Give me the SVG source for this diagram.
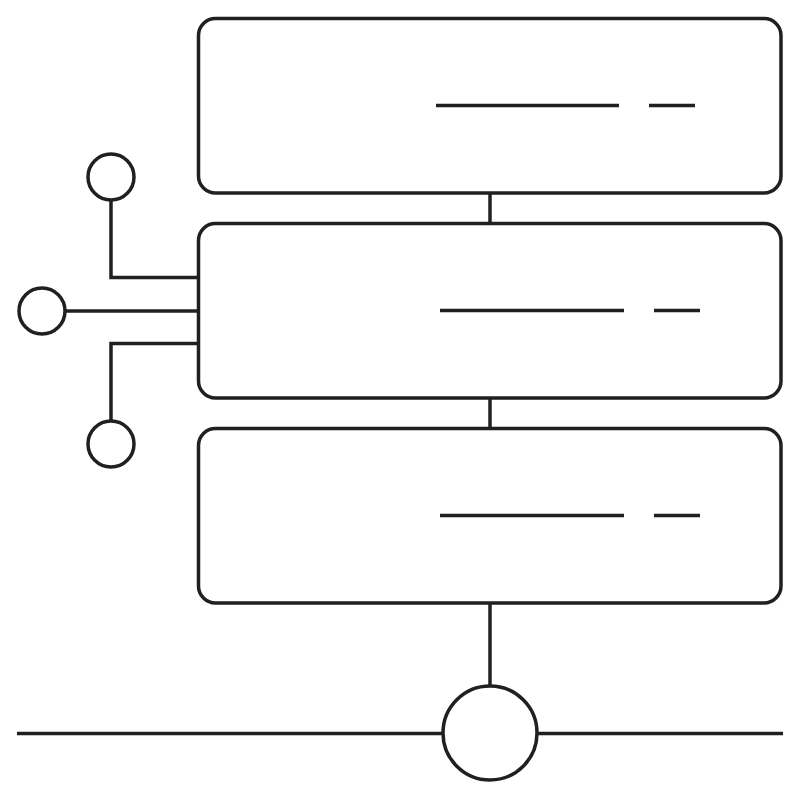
<svg xmlns="http://www.w3.org/2000/svg" width="800" height="800" viewBox="0 0 800 800">
<style>
.s{fill:none;stroke:#231f20;stroke-width:3.500}
.n{fill:#fff;stroke:#231f20;stroke-width:3.500}
</style>
<rect width="800" height="800" fill="#fff"/>
<g id="connectors" class="s">
<path d="M490 193V223"/>
<path d="M490 398V428"/>
<path d="M490 603V686"/>
<path d="M111 200V277.500H198"/>
<path d="M65 311H198"/>
<path d="M111 421V343.500H198"/>
<path d="M17 733.500H443"/>
<path d="M537 733.500H783"/>
</g>
<g id="box1"><rect class="n" x="198.500" y="18.500" width="582.500" height="174.500" rx="17"/><path class="s" d="M436 105.500H619M649 105.500H695"/></g>
<g id="box2"><rect class="n" x="198.500" y="223.500" width="582.500" height="174.500" rx="17"/><path class="s" d="M440 310.500H624M654 310.500H700"/></g>
<g id="box3"><rect class="n" x="198.500" y="428.500" width="582.500" height="174.500" rx="17"/><path class="s" d="M440 515.500H624M654 515.500H700"/></g>
<g id="node-top"><circle class="n" cx="111" cy="177" r="23"/></g>
<g id="node-left"><circle class="n" cx="42" cy="311" r="23"/></g>
<g id="node-bottom"><circle class="n" cx="111" cy="444" r="23"/></g>
<g id="node-main"><circle class="n" cx="490" cy="733" r="47"/></g>
</svg>
